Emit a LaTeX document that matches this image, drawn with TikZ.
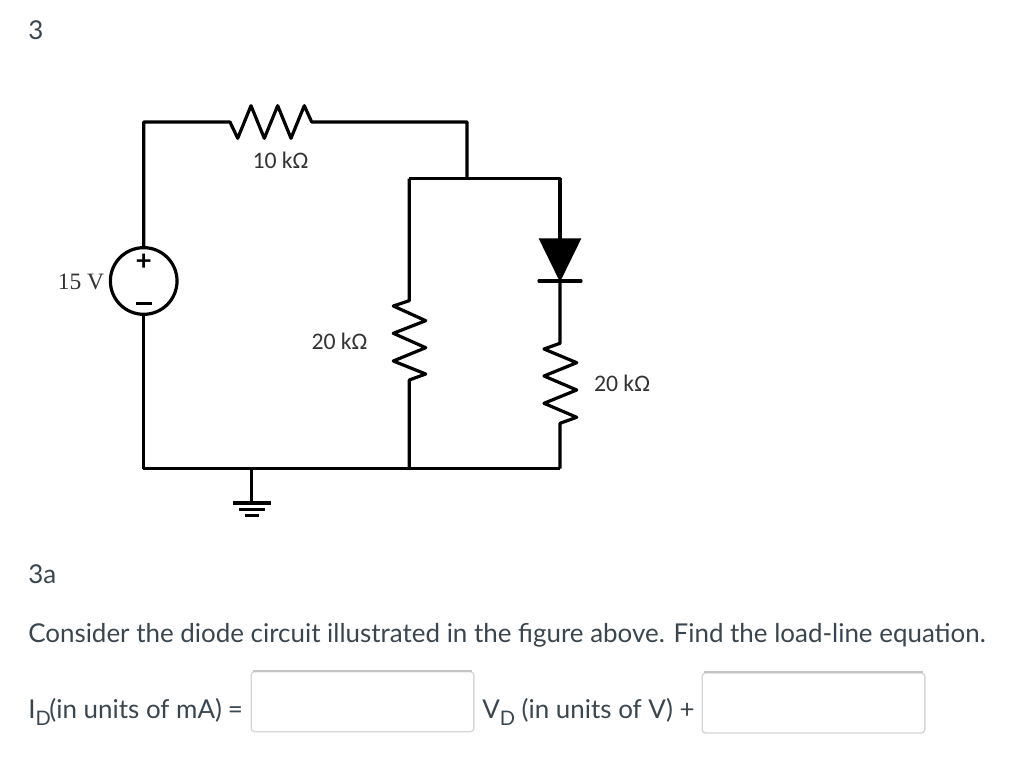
\documentclass[tikz,border=0pt]{standalone}
\usepackage{fontspec}
\setmainfont{Lato}
\newfontfamily\labelfont{Carlito}
\newfontfamily\srcfont{Liberation Serif}
\definecolor{txt}{HTML}{3A464F}
\definecolor{lbl}{HTML}{333333}
\definecolor{boxb}{HTML}{D4D6D8}
\definecolor{boxt}{HTML}{C2C4C6}
\newcommand{\subD}{\raisebox{-0.28em}{\fontsize{15}{16}\selectfont D}}
\tikzset{
  wire/.style={line width=2.4pt,black,line join=round},
  gbar/.style={line width=1.9pt,black},
  body/.style={font=\fontsize{19.45}{22}\selectfont,text=txt,inner sep=0pt,anchor=base west},
  rlabel/.style={font=\labelfont\fontsize{17.8}{20}\selectfont,text=lbl,inner sep=0pt,anchor=base},
  inbox/.style={draw=boxb,line width=1pt,rounded corners=2.5pt,fill=white,minimum width=167pt,minimum height=45pt},
  boxtop/.style={draw=boxt,line width=1.5pt}
}
\begin{document}
\begin{tikzpicture}[x=0.75pt,y=-0.75pt]
\useasboundingbox (0,0) rectangle (1024,762);
\fill[white] (0,0) rectangle (1024,762);
% junction coordinates
\coordinate (tl) at (143.7,122);
\coordinate (tr) at (467,122);
\coordinate (jt) at (467,178.7);
\coordinate (ll) at (409.3,178.7);
\coordinate (rr) at (560,178.7);
\coordinate (bl) at (143.7,468.7);
\coordinate (bm) at (409.3,468.7);
\coordinate (br) at (560,468.7);
\coordinate (g) at (251.7,468.7);
\coordinate (gb) at (251.7,503);
% source
\node[circle,draw=black,line width=2.4pt,minimum size=50pt,inner sep=0pt] (src) at (143.7,281) {};
\node[font=\bfseries\fontsize{21}{24}\selectfont,inner sep=0pt] (plus) at (143.7,262.5) {+};
\draw[line width=2.4pt] (136,303.7) -- (151.7,303.7);
\node[font=\srcfont\fontsize{17.6}{20}\selectfont,text=lbl,inner sep=0pt,anchor=base] (vlab) at (81,290) {15 V};
% wires
\draw[wire] (src.north) -- (tl) -- (230,122) -- (237.7,138.3) -- (251,105.7) -- (264.3,138.3) -- (277.7,105.7) -- (291,138.3) -- (304.3,105.7) -- (311.7,122) -- (tr) -- (jt);
\draw[wire] (ll) -- (rr) -- (560,239);
\draw[wire] (ll) -- (409.3,300.7) -- (393.3,306) -- (425.7,320.7) -- (393.3,333.3) -- (425.7,347.7) -- (393.3,361) -- (425.7,374) -- (409.3,380) -- (bm);
\draw[wire] (560,281) -- (560,343.3) -- (544,349) -- (576.7,362.7) -- (544,376) -- (576.7,390) -- (544,403.3) -- (576.7,417.3) -- (560,423.3) -- (br);
\draw[wire] (src.south) -- (bl) -- (br);
% diode
\fill[black] (538.7,238.5) -- (581.3,238.5) -- (560,282) -- cycle;
\draw[wire,line cap=round] (539,281) -- (581,281);
% ground
\draw[wire] (g) -- (gb);
\draw[wire] (232.7,503) -- (271.3,503);
\draw[gbar] (239,509.5) -- (265,509.5);
\draw[gbar] (245,515.5) -- (259,515.5);
% labels
\node[rlabel] (r1) at (280.5,169) {10 kΩ};
\node[rlabel] (r2) at (339.5,350) {20 kΩ};
\node[rlabel] (r3) at (622,391.5) {20 kΩ};
% text
\node[body] (q) at (28,40) {3};
\node[body] (qa) at (28,583) {3a};
\node[body] (st) at (28,642) {Consider the diode circuit illustrated in the figure above. Find the load-line equation.};
\node[body] (id) at (28,718) {I\subD\kern-1pt(in units of mA)\kern-0.5pt\ =};
\node[inbox] (b1) at (362.5,701.7) {};
\draw[boxtop] ([xshift=2pt]b1.north west) -- ([xshift=-2pt]b1.north east);
\node[body] (vd) at (482,718) {V\subD\ (in units of V) +};
\node[inbox] (b2) at (813.5,703) {};
\draw[boxtop] ([xshift=2pt]b2.north west) -- ([xshift=-2pt]b2.north east);
\end{tikzpicture}
\end{document}
